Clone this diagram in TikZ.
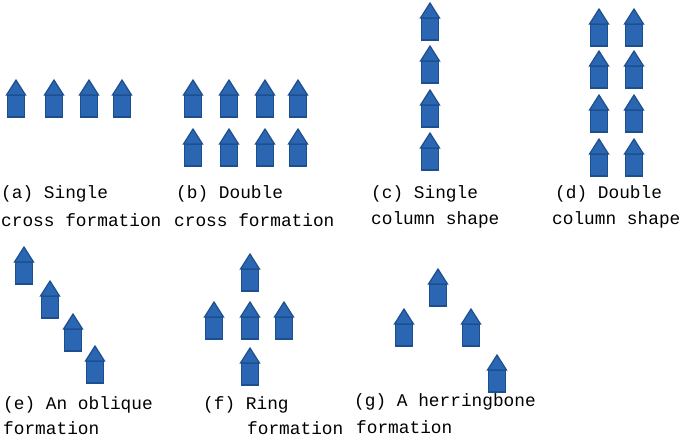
\documentclass[tikz,border=0pt]{standalone}
\usepackage{fontspec}
\setmonofont{Liberation Mono}
\definecolor{shipfill}{HTML}{2B66B2}
\definecolor{shipline}{HTML}{1D4F8F}
\tikzset{
  shipshape/.style={fill=shipfill,draw=shipline,line width=1.2pt,line join=miter},
  lbl/.style={anchor=west,inner sep=0pt,font=\fontsize{17.8}{18}\selectfont\ttfamily},
  ship/.pic={
    \path[shipshape] (-8.5,-22) rectangle (8.5,0);
    \path[shipshape] (-9.5,-22) -- (0,-37) -- (9.5,-22) -- cycle;
  }
}
\begin{document}
\begin{tikzpicture}[x=1pt,y=-1pt]
\useasboundingbox (0,0) rectangle (685,439);
% (a)
\foreach \x in {16,54,89,122} \pic at (\x,117) {ship};
% (b)
\foreach \x in {193,229,265,298} {\pic at (\x,117) {ship}; \pic at (\x,166) {ship};}
% (c)
\foreach \y in {40,83,127,170} \pic at (430,\y) {ship};
% (d)
\foreach \y in {46,88,132,176} {\pic at (599,\y) {ship}; \pic at (634,\y) {ship};}
% (e)
\pic at (24,284) {ship}; \pic at (50,318) {ship}; \pic at (73,351) {ship}; \pic at (95,383) {ship};
% (f)
\pic at (250,291) {ship};
\foreach \x in {214,250,284} \pic at (\x,339) {ship};
\pic at (250,385) {ship};
% (g)
\pic at (438,306) {ship}; \pic at (404,346) {ship}; \pic at (471,346) {ship}; \pic at (497,392) {ship};
% labels
\node[lbl] (la1) at (1,194) {(a) Single};
\node[lbl] (la2) at (1,220) {cross formation};
\node[lbl] (lb1) at (176,194) {(b) Double};
\node[lbl] (lb2) at (174,220) {cross formation};
\node[lbl] (lc1) at (371,194) {(c) Single};
\node[lbl] (lc2) at (371,220) {column shape};
\node[lbl] (ld1) at (555,194) {(d) Double};
\node[lbl] (ld2) at (552,220) {column shape};
\node[lbl] (le1) at (3,405) {(e) An oblique};
\node[lbl] (le2) at (3,428) {formation};
\node[lbl] (lf1) at (203,405) {(f) Ring};
\node[lbl] (lf2) at (247,428) {formation};
\node[lbl] (lg1) at (354,402) {(g) A herringbone};
\node[lbl] (lg2) at (356,427) {formation};
\end{tikzpicture}
\end{document}
